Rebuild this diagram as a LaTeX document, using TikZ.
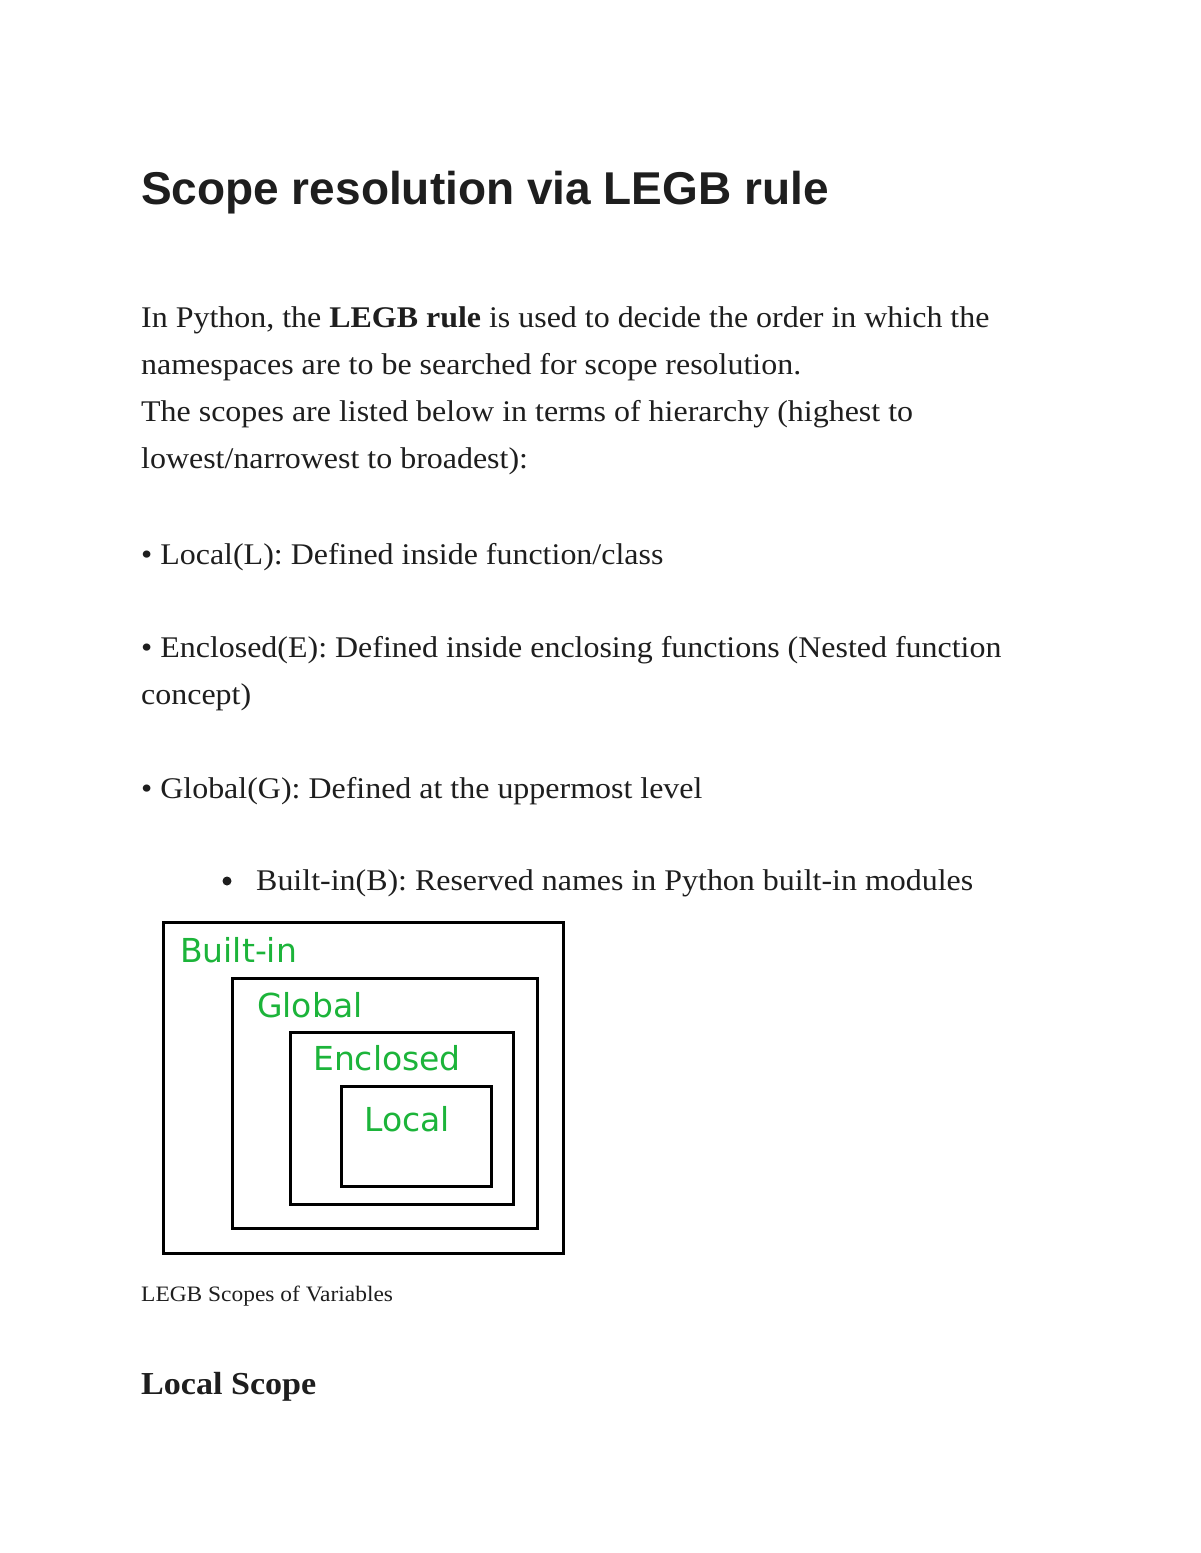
\documentclass[tikz,border=0pt]{standalone}
\usepackage{fontspec}
\setmainfont{Liberation Serif}[FakeStretch=1.065]
\newfontfamily\titlefont{Liberation Sans}
\newfontfamily\labelfont{DejaVu Sans}
\definecolor{txt}{RGB}{30,30,30}
\definecolor{scopegreen}{RGB}{28,180,58}
\begin{document}
\begin{tikzpicture}[x=1pt,y=1pt,
  line/.style={anchor=base west,inner sep=0pt,text=txt,font=\fontsize{30}{30}\selectfont},
  caption/.style={anchor=base west,inner sep=0pt,text=txt,font=\fontsize{22}{22}\selectfont},
  heading/.style={anchor=base west,inner sep=0pt,text=txt,font=\fontsize{32}{32}\selectfont\bfseries},
  title/.style={anchor=base west,inner sep=0pt,text=txt,font=\titlefont\bfseries\fontsize{46}{46}\selectfont},
  scopebox/.style={draw=black,line width=3pt,rectangle,inner sep=0pt,outer sep=0pt},
  scopelabel/.style={anchor=base west,inner sep=0pt,text=scopegreen,font=\labelfont\fontsize{33}{33}\selectfont}]
\useasboundingbox[fill=white] (0,0) rectangle (1200,-1553);
% title
\node[title] (ttl) at (141,-204) {Scope resolution via LEGB rule};
% paragraph
\node[line] (p1) at (141,-327) {In Python, the \textbf{LEGB rule} is used to decide the order in which the};
\node[line] (p2) at (141,-374) {namespaces are to be searched for scope resolution.};
\node[line] (p3) at (141,-421) {The scopes are listed below in terms of hierarchy (highest to};
\node[line] (p4) at (141,-468) {lowest/narrowest to broadest):};
% bullets
\node[line] (b1) at (141,-564) {• Local(L): Defined inside function/class};
\node[line] (b2) at (141,-657) {• Enclosed(E): Defined inside enclosing functions (Nested function};
\node[line] (b2b) at (141,-704) {concept)};
\node[line] (b3) at (141,-798) {• Global(G): Defined at the uppermost level};
\node[circle,fill=txt,inner sep=0pt,minimum size=9pt] (dot) at (227,-881) {};
\node[line] (b4) at (256,-890) {Built-in(B): Reserved names in Python built-in modules};
% diagram
\node[scopebox,minimum width=400,minimum height=331] (builtin) at (363,-1087.5) {};
\node[scopebox,minimum width=305,minimum height=250] (global) at (384.5,-1103) {};
\node[scopebox,minimum width=223,minimum height=172] (enclosed) at (401.5,-1118) {};
\node[scopebox,minimum width=150,minimum height=100] (local) at (416,-1136) {};
\node[scopelabel] (lb) at (180,-962) {Built-in};
\node[scopelabel] (lg) at (257,-1017) {Global};
\node[scopelabel] (le) at (313,-1070) {Enclosed};
\node[scopelabel] (ll) at (364,-1131) {Local};
% caption and heading
\node[caption] (cap) at (141,-1301) {LEGB Scopes of Variables};
\node[heading] (hd) at (141,-1394) {Local Scope};
\end{tikzpicture}
\end{document}
